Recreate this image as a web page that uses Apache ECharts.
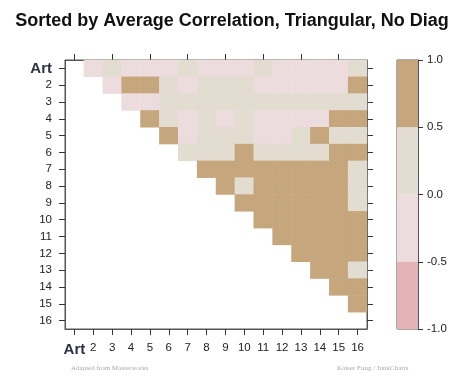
<!DOCTYPE html>
<html>
<head>
<meta charset="utf-8">
<script src="https://cdn.jsdelivr.net/npm/echarts@6/dist/echarts.min.js"></script>
<style>
html,body{margin:0;padding:0;background:#fff;}
#chart{width:474px;height:389px;}
</style>
</head>
<body>
<div id="chart"></div>
<script>
// Variable labels (rows top->bottom, columns left->right)
const labels = ['Art','2','3','4','5','6','7','8','9','10','11','12','13','14','15','16'];

// Correlation values (binned estimates).
// Row i lists the cells for columns i+1 .. 16 (upper triangle, no diagonal).
const T = 0.75, B = 0.25, P = -0.25;
const rowArt = [P,B,P,P,P,B,P,P,P,B,P,P,P,P,B];
const row2  = [P,T,T,B,P,B,B,B,P,P,P,P,P,T];
const row3  = [P,P,B,B,B,B,B,B,B,B,B,B,B];
const row4  = [T,B,P,B,P,B,P,P,P,P,T,T];
const row5  = [T,P,B,B,B,P,P,B,T,B,B];
const row6  = [B,B,B,T,B,B,B,B,T,T];
const row7  = [T,T,T,T,T,T,T,T,B];
const row8  = [T,B,T,T,T,T,T,B];
const row9  = [T,T,T,T,T,T,B];
const row10 = [T,T,T,T,T,T];
const row11 = [T,T,T,T,T];
const row12 = [T,T,T,T];
const row13 = [T,T,B];
const row14 = [T,T];
const row15 = [T];
const rows = [rowArt,row2,row3,row4,row5,row6,row7,row8,row9,row10,row11,row12,row13,row14,row15];

// Colour key bins
const keyTicks = [-1, -0.5, 0, 0.5, 1];
const binColors = ['#e5b3b6', '#eddcde', '#e3dcd0', '#c6a67c'];

const cells = [];
rows.forEach((r, i) => {
  r.forEach((v, k) => {
    const j = i + 1 + k;
    cells.push([j, i, v]);
  });
});

const labelFmt = v => v === 'Art' ? '{a|Art}' : '{n|' + v + '}';
const richLab = {
  a: {fontFamily: 'Liberation Sans, Arial', fontWeight: 'bold', fontSize: 15, color: '#2b3142'},
  n: {fontFamily: 'Liberation Sans, Arial', fontSize: 11.5, color: '#222'}
};

const chart = echarts.init(document.getElementById('chart'), null, {renderer: 'canvas'});
const option = {
  animation: false,
  backgroundColor: '#fff',
  title: {
    text: 'Sorted by Average Correlation, Triangular, No Diag',
    left: 231, textAlign: 'center', top: 7,
    textStyle: {fontFamily: 'Liberation Sans, Arial', fontWeight: 'bold', fontSize: 18, color: '#111'}
  },
  grid: [
    {left: 65, top: 60, width: 302, height: 269, show: true, borderColor: '#555', borderWidth: 1, containLabel: false},
    {left: 397, top: 60, width: 21, height: 269, show: true, borderColor: '#555', borderWidth: 1}
  ],
  xAxis: [
    {type: 'category', gridIndex: 0, data: labels, position: 'bottom',
     axisLine: {show: true, lineStyle: {color: '#555'}},
     axisTick: {show: true, alignWithLabel: true, length: 6, inside: false, lineStyle: {color: '#333'}},
     axisLabel: {formatter: labelFmt, rich: richLab, margin: 13, interval: 0},
     splitLine: {show: false}},
    {type: 'category', gridIndex: 0, data: labels, position: 'top',
     axisLine: {show: true, lineStyle: {color: '#555'}},
     axisTick: {show: true, alignWithLabel: true, length: 6, lineStyle: {color: '#333'}},
     axisLabel: {show: false}},
    {type: 'category', gridIndex: 1, data: ['k'], show: false}
  ],
  yAxis: [
    {type: 'category', gridIndex: 0, data: labels, inverse: true, position: 'left',
     axisLine: {show: true, lineStyle: {color: '#555'}},
     axisTick: {show: true, alignWithLabel: true, length: 6, lineStyle: {color: '#333'}},
     axisLabel: {formatter: labelFmt, rich: richLab, margin: 13, interval: 0, align: 'right'},
     splitLine: {show: false}},
    {type: 'category', gridIndex: 0, data: labels, inverse: true, position: 'right',
     axisLine: {show: true, lineStyle: {color: '#555'}},
     axisTick: {show: true, alignWithLabel: true, length: 6, lineStyle: {color: '#333'}},
     axisLabel: {show: false}},
    {type: 'value', gridIndex: 1, min: -1, max: 1, interval: 0.5, position: 'right',
     axisLine: {show: true, lineStyle: {color: '#555'}},
     axisTick: {show: true, length: 5, lineStyle: {color: '#333'}},
     axisLabel: {formatter: v => v.toFixed(1), margin: 9, fontFamily: 'Liberation Sans, Arial', fontSize: 11.5, color: '#222'},
     splitLine: {show: false}}
  ],
  visualMap: {
    type: 'piecewise', show: false, seriesIndex: 0, dimension: 2,
    pieces: [
      {min: keyTicks[3], max: keyTicks[4], color: binColors[3]},
      {min: keyTicks[2], max: keyTicks[3], color: binColors[2]},
      {min: keyTicks[1], max: keyTicks[2], color: binColors[1]},
      {min: keyTicks[0], max: keyTicks[1], color: binColors[0]}
    ]
  },
  series: [
    {type: 'heatmap', xAxisIndex: 0, yAxisIndex: 0, data: cells, itemStyle: {borderWidth: 0}},
    {type: 'bar', xAxisIndex: 2, yAxisIndex: 2, stack: 'key', barWidth: '100%', data: [keyTicks[3] - keyTicks[2]], itemStyle: {color: binColors[2]}},
    {type: 'bar', xAxisIndex: 2, yAxisIndex: 2, stack: 'key', barWidth: '100%', data: [keyTicks[4] - keyTicks[3]], itemStyle: {color: binColors[3]}},
    {type: 'bar', xAxisIndex: 2, yAxisIndex: 2, stack: 'key', barWidth: '100%', data: [keyTicks[1] - keyTicks[2]], itemStyle: {color: binColors[1]}},
    {type: 'bar', xAxisIndex: 2, yAxisIndex: 2, stack: 'key', barWidth: '100%', data: [keyTicks[0] - keyTicks[1]], itemStyle: {color: binColors[0]}}
  ],
  graphic: [
    {type: 'text', left: 71, top: 365, style: {text: 'Adapted from Masterworks', font: '7px "Liberation Serif", serif', fill: '#aaa'}},
    {type: 'text', left: 337, top: 365, style: {text: 'Kaiser Fung / JunkCharts', font: '7px "Liberation Serif", serif', fill: '#aaa'}}
  ]
};
option.title.left = 227;
chart.setOption(option);
</script>
</body>
</html>
